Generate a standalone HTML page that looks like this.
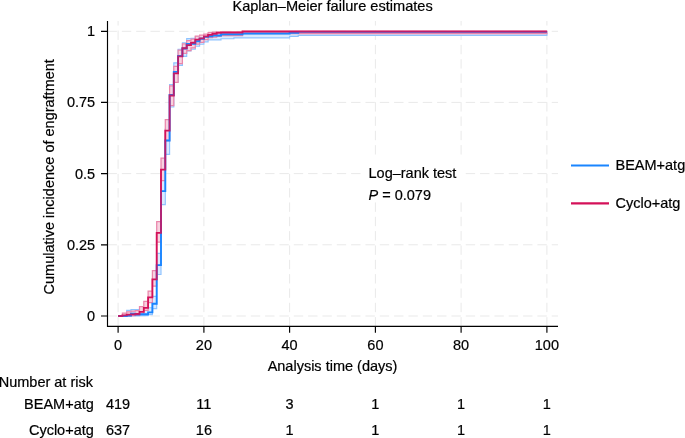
<!DOCTYPE html>
<html><head><meta charset="utf-8"><title>Kaplan–Meier failure estimates</title>
<style>
html,body{margin:0;padding:0;background:#fff;}
svg{display:block;}
text{font-family:"Liberation Sans",Arial,Helvetica,sans-serif;fill:#000;stroke:#000;stroke-width:0.2px;}
</style></head><body>
<svg width="685" height="438" viewBox="0 0 685 438">
<rect width="685" height="438" fill="#fff"/>
<g id="grid" stroke="#e9e9e9" stroke-width="1" stroke-dasharray="9.4 4.93" fill="none">
<line x1="107.5" y1="31.3" x2="558" y2="31.3"/>
<line x1="107.5" y1="102.4" x2="558" y2="102.4"/>
<line x1="107.5" y1="173.6" x2="558" y2="173.6"/>
<line x1="107.5" y1="244.8" x2="558" y2="244.8"/>
<line x1="107.5" y1="316" x2="558" y2="316"/>
<line x1="118.1" y1="326.5" x2="118.1" y2="21"/>
<line x1="203.9" y1="326.5" x2="203.9" y2="21"/>
<line x1="289.6" y1="326.5" x2="289.6" y2="21"/>
<line x1="375.4" y1="326.5" x2="375.4" y2="21"/>
<line x1="461.1" y1="326.5" x2="461.1" y2="21"/>
<line x1="546.9" y1="326.5" x2="546.9" y2="21"/>
</g>
<rect x="362.5" y="158" width="100.5" height="44" fill="#fff"/>
<g id="curves" stroke-linejoin="miter">
<polygon points="118.1,316.0 126.7,316.0 126.7,310.3 131.0,310.3 131.0,309.5 135.3,309.5 135.3,309.5 139.5,309.5 139.5,309.0 148.1,309.0 148.1,307.7 152.4,307.7 152.4,296.3 156.7,296.3 156.7,253.4 161.0,253.4 161.0,178.0 165.3,178.0 165.3,129.0 169.6,129.0 169.6,84.5 173.8,84.5 173.8,62.8 178.1,62.8 178.1,49.2 182.4,49.2 182.4,42.7 186.7,42.7 186.7,38.6 191.0,38.6 191.0,38.3 195.3,38.3 195.3,36.5 199.6,36.5 199.6,35.5 203.9,35.5 203.9,34.5 208.1,34.5 208.1,33.5 212.4,33.5 212.4,33.0 221.0,33.0 221.0,32.5 233.9,32.5 233.9,32.5 242.5,32.5 242.5,32.0 289.6,32.0 289.6,31.7 298.2,31.7 298.2,31.5 546.9,31.5 546.9,35.3 298.2,35.3 298.2,36.3 289.6,36.3 289.6,37.9 242.5,37.9 242.5,37.9 233.9,37.9 233.9,38.7 221.0,38.7 221.0,39.8 212.4,39.8 212.4,39.8 208.1,39.8 208.1,41.8 203.9,41.8 203.9,44.2 199.6,44.2 199.6,46.2 195.3,46.2 195.3,49.2 191.0,49.2 191.0,51.0 186.7,51.0 186.7,56.4 182.4,56.4 182.4,65.3 178.1,65.3 178.1,82.0 173.8,82.0 173.8,107.0 169.6,107.0 169.6,154.3 165.3,154.3 165.3,204.6 161.0,204.6 161.0,274.5 156.7,274.5 156.7,308.6 152.4,308.6 152.4,314.6 148.1,314.6 148.1,315.6 139.5,315.6 139.5,316.0 135.3,316.0 135.3,316.0 131.0,316.0 131.0,316.0 126.7,316.0 126.7,316.0 118.1,316.0" fill="#d9ebff" stroke="#8fc3ff" stroke-width="1.15"/>
<polygon points="118.1,316.0 122.4,316.0 122.4,313.0 126.7,313.0 126.7,311.8 131.0,311.8 131.0,311.0 135.3,311.0 135.3,310.7 139.5,310.7 139.5,306.6 143.8,306.6 143.8,301.3 148.1,301.3 148.1,291.0 152.4,291.0 152.4,270.5 156.7,270.5 156.7,221.5 161.0,221.5 161.0,158.0 165.3,158.0 165.3,119.6 169.6,119.6 169.6,85.8 173.8,85.8 173.8,66.4 178.1,66.4 178.1,50.0 182.4,50.0 182.4,43.8 186.7,43.8 186.7,40.7 191.0,40.7 191.0,39.0 195.3,39.0 195.3,36.2 199.6,36.2 199.6,35.1 203.9,35.1 203.9,34.0 208.1,34.0 208.1,32.6 212.4,32.6 212.4,32.1 216.7,32.1 216.7,32.2 221.0,32.2 221.0,32.0 242.5,32.0 242.5,31.4 546.9,31.4 546.9,33.5 242.5,33.5 242.5,35.7 221.0,35.7 221.0,36.3 216.7,36.3 216.7,37.0 212.4,37.0 212.4,37.6 208.1,37.6 208.1,39.5 203.9,39.5 203.9,42.3 199.6,42.3 199.6,44.0 195.3,44.0 195.3,47.9 191.0,47.9 191.0,50.6 186.7,50.6 186.7,53.3 182.4,53.3 182.4,63.5 178.1,63.5 178.1,82.4 173.8,82.4 173.8,105.5 169.6,105.5 169.6,140.5 165.3,140.5 165.3,180.6 161.0,180.6 161.0,242.2 156.7,242.2 156.7,286.0 152.4,286.0 152.4,302.5 148.1,302.5 148.1,310.3 143.8,310.3 143.8,314.0 139.5,314.0 139.5,315.4 135.3,315.4 135.3,315.6 131.0,315.6 131.0,316.0 126.7,316.0 126.7,316.0 122.4,316.0 122.4,316.0 118.1,316.0" fill="#f7d3e0" stroke="#ea86ab" stroke-width="1.25"/>
<polyline points="118.1,316.0 126.7,316.0 126.7,315.6 131.0,315.6 131.0,313.6 135.3,313.6 135.3,314.6 139.5,314.6 139.5,314.2 148.1,314.2 148.1,312.3 152.4,312.3 152.4,303.7 156.7,303.7 156.7,265.1 161.0,265.1 161.0,191.1 165.3,191.1 165.3,140.5 169.6,140.5 169.6,95.0 173.8,95.0 173.8,71.9 178.1,71.9 178.1,56.0 182.4,56.0 182.4,48.5 186.7,48.5 186.7,43.9 191.0,43.9 191.0,43.9 195.3,43.9 195.3,41.2 199.6,41.2 199.6,38.7 203.9,38.7 203.9,36.8 208.1,36.8 208.1,36.2 212.4,36.2 212.4,35.5 221.0,35.5 221.0,34.2 233.9,34.2 233.9,34.2 242.5,34.2 242.5,33.5 289.6,33.5 289.6,32.7 298.2,32.7 298.2,31.8 546.9,31.8" fill="none" stroke="#1a85ff" stroke-width="1.85"/>
<polyline points="118.1,316.0 122.4,316.0 122.4,315.3 126.7,315.3 126.7,314.6 131.0,314.6 131.0,314.3 135.3,314.3 135.3,314.0 139.5,314.0 139.5,311.9 143.8,311.9 143.8,307.8 148.1,307.8 148.1,297.3 152.4,297.3 152.4,279.4 156.7,279.4 156.7,232.8 161.0,232.8 161.0,169.6 165.3,169.6 165.3,130.6 169.6,130.6 169.6,95.5 173.8,95.5 173.8,73.3 178.1,73.3 178.1,56.4 182.4,56.4 182.4,48.2 186.7,48.2 186.7,45.1 191.0,45.1 191.0,42.7 195.3,42.7 195.3,39.6 199.6,39.6 199.6,38.3 203.9,38.3 203.9,36.4 208.1,36.4 208.1,34.8 212.4,34.8 212.4,33.7 216.7,33.7 216.7,32.7 221.0,32.7 221.0,32.5 242.5,32.5 242.5,31.5 546.9,31.5" fill="none" stroke="#d41159" stroke-width="1.85"/>
<polyline points="118.1,316.0 126.7,316.0 126.7,315.6 131.0,315.6 131.0,313.6 135.3,313.6 135.3,314.6 139.5,314.6 139.5,314.2 148.1,314.2 148.1,312.3 152.4,312.3 152.4,303.7 156.7,303.7 156.7,265.1 161.0,265.1 161.0,191.1 165.3,191.1 165.3,140.5 169.6,140.5 169.6,95.0 173.8,95.0 173.8,71.9 178.1,71.9 178.1,56.0 182.4,56.0 182.4,48.5 186.7,48.5 186.7,43.9 191.0,43.9 191.0,43.9 195.3,43.9 195.3,41.2 199.6,41.2 199.6,38.7 203.9,38.7 203.9,36.8 208.1,36.8 208.1,36.2 212.4,36.2 212.4,35.5 221.0,35.5 221.0,34.2 233.9,34.2 233.9,34.2 242.5,34.2 242.5,33.5 289.6,33.5 289.6,32.7 298.2,32.7 298.2,31.8 546.9,31.8" fill="none" stroke="#1a85ff" stroke-opacity="0.13" stroke-width="1.85"/>
</g>
<g id="axes" stroke="#000" stroke-width="1.15" fill="none">
<path d="M107.5 21V326.3H558"/>
<path d="M101 31.3H107.5M101 102.4H107.5M101 173.6H107.5M101 244.8H107.5M101 316H107.5"/>
<path d="M118.1 326.3V332.7M203.9 326.3V332.7M289.6 326.3V332.7M375.4 326.3V332.7M461.1 326.3V332.7M546.9 326.3V332.7"/>
</g>
<g id="labels" font-size="14.5">
<text x="232.4" y="11" textLength="200.4" lengthAdjust="spacingAndGlyphs">Kaplan–Meier failure estimates</text>
<text x="95.2" y="36.2" text-anchor="end">1</text>
<text x="95.2" y="107.3" text-anchor="end">0.75</text>
<text x="95.2" y="178.5" text-anchor="end">0.5</text>
<text x="95.2" y="249.7" text-anchor="end">0.25</text>
<text x="95.2" y="320.9" text-anchor="end">0</text>
<text x="118.1" y="350" text-anchor="middle">0</text>
<text x="203.9" y="350" text-anchor="middle">20</text>
<text x="289.6" y="350" text-anchor="middle">40</text>
<text x="375.4" y="350" text-anchor="middle">60</text>
<text x="461.1" y="350" text-anchor="middle">80</text>
<text x="546.9" y="350" text-anchor="middle">100</text>
<text x="332.5" y="371.3" text-anchor="middle">Analysis time (days)</text>
<text transform="translate(54 176.8) rotate(-90)" text-anchor="middle">Cumulative incidence of engraftment</text>
<text x="368.5" y="177.5">Log–rank test</text>
<text x="368.5" y="199.8"><tspan font-style="italic">P</tspan> = 0.079</text>
<text x="615.5" y="169.7">BEAM+atg</text>
<text x="615.5" y="208">Cyclo+atg</text>
<text x="-1.3" y="386.6">Number at risk</text>
<text x="93.8" y="409.4" text-anchor="end">BEAM+atg</text>
<text x="93.8" y="435" text-anchor="end">Cyclo+atg</text>
<text x="118.1" y="409.4" text-anchor="middle">419</text>
<text x="203.9" y="409.4" text-anchor="middle">11</text>
<text x="289.6" y="409.4" text-anchor="middle">3</text>
<text x="375.4" y="409.4" text-anchor="middle">1</text>
<text x="461.1" y="409.4" text-anchor="middle">1</text>
<text x="546.9" y="409.4" text-anchor="middle">1</text>
<text x="118.1" y="435" text-anchor="middle">637</text>
<text x="203.9" y="435" text-anchor="middle">16</text>
<text x="289.6" y="435" text-anchor="middle">1</text>
<text x="375.4" y="435" text-anchor="middle">1</text>
<text x="461.1" y="435" text-anchor="middle">1</text>
<text x="546.9" y="435" text-anchor="middle">1</text>
</g>
<g id="legend" fill="none" stroke-width="2.2">
<line x1="571" y1="165.5" x2="609" y2="165.5" stroke="#1a85ff"/>
<line x1="571" y1="203.3" x2="609" y2="203.3" stroke="#d41159"/>
</g>
</svg>
</body></html>
